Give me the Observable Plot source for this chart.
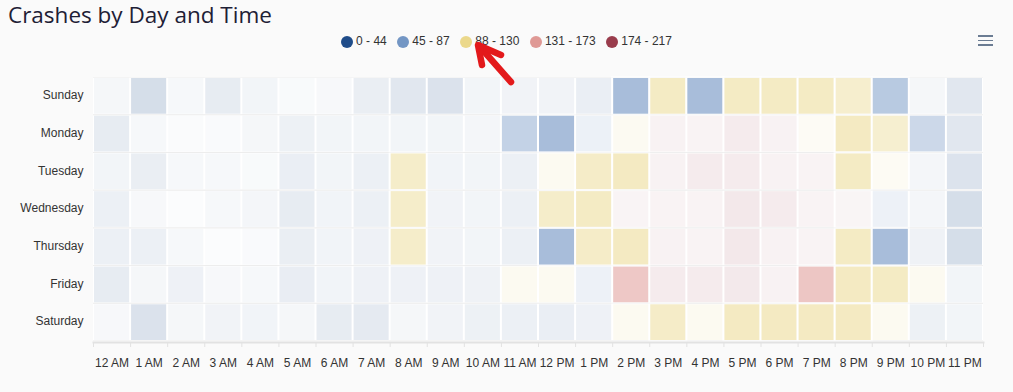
<!DOCTYPE html>
<html>
<head>
<meta charset="utf-8">
<script src="https://cdn.jsdelivr.net/npm/d3@7"></script>
<script src="https://cdn.jsdelivr.net/npm/@observablehq/plot@0.6"></script>
<style>
html,body{margin:0;padding:0;background:#fafafa;width:1013px;height:392px;overflow:hidden;}
#wrap{position:relative;width:1013px;height:392px;font-family:"Liberation Sans",Arial,sans-serif;}
#title{position:absolute;left:8px;top:4px;font-family:"Open Sans",sans-serif;font-size:22.5px;line-height:22px;color:#1e2035;white-space:nowrap;}
#legend{position:absolute;top:34px;left:0;width:1013px;display:flex;justify-content:center;font-size:12px;line-height:15px;color:#333;}
.item{display:flex;align-items:center;margin:0 5.3px;}
.dot{width:12px;height:12px;border-radius:50%;margin-right:3px;}
#menu{position:absolute;left:978px;top:35px;width:15px;}
#menu div{height:1.6px;background:#6b7c93;margin-bottom:3px;}
#chart{position:absolute;left:0;top:62px;}
#arrow{position:absolute;left:0;top:0;pointer-events:none;}
</style>
</head>
<body>
<div id="wrap">
  <div id="title">Crashes by Day and Time</div>
  <div id="legend"></div>
  <div id="menu"><div></div><div></div><div></div></div>
  <div id="chart"></div>
  <svg id="arrow" width="1013" height="392">
    <g fill="none" stroke="#e3191b" stroke-width="6.5" stroke-linecap="round" stroke-linejoin="round">
      <path d="M511,82 L481,48"/>
      <path d="M501,55 L478,45 L482,65"/>
    </g>
  </svg>
</div>
<script>
const days = ["Sunday", "Monday", "Tuesday", "Wednesday", "Thursday", "Friday", "Saturday"];
const hours = ["12 AM","1 AM","2 AM","3 AM","4 AM","5 AM","6 AM","7 AM","8 AM","9 AM","10 AM","11 AM",
               "12 PM","1 PM","2 PM","3 PM","4 PM","5 PM","6 PM","7 PM","8 PM","9 PM","10 PM","11 PM"];
const classLabels = ["0 - 44", "45 - 87", "88 - 130", "131 - 173", "174 - 217"];
const classBreaks = [45, 88, 131, 174];
const classColors = ["#1f4c89", "#7396c4", "#ebd88b", "#df9995", "#993c4c"];

// crash counts, one array per day, 12 AM .. 11 PM
const sunday    = [9,40,8,22,11,6,7,20,29,34,11,13,13,19,80,112,82,118,121,115,104,71,9,29];
const monday    = [22,8,3,4,9,17,11,11,11,11,10,62,81,48,92,181,178,196,182,90,120,101,56,29];
const tuesday   = [11,20,8,8,6,19,11,18,100,12,11,18,93,108,125,180,198,197,182,178,114,90,10,33];
const wednesday = [18,7,2,8,10,22,12,18,102,13,11,18,103,116,177,178,178,207,195,176,175,47,10,40];
const thursday  = [18,18,8,2,4,20,12,15,101,13,11,18,80,110,124,183,179,205,182,178,117,79,14,40];
const friday    = [22,9,15,7,8,21,12,15,15,15,14,94,95,47,165,198,196,217,182,168,126,113,91,11];
const saturday  = [7,34,9,13,12,9,22,24,9,13,17,18,19,15,91,108,93,122,126,124,123,92,17,11];

// highlight state of each cell in the picture (legend hover fade), one array per day
const sundayState    = [0.04,0.18,0.035,0.10,0.05,0.025,0.03,0.09,0.13,0.155,0.05,0.06,0.06,0.085,0.62,0.5,0.62,0.5,0.5,0.5,0.42,0.5,0.04,0.13];
const mondayState    = [0.10,0.035,0.015,0.02,0.04,0.075,0.05,0.05,0.05,0.05,0.045,0.42,0.62,0.13,0.1,0.064,0.053,0.093,0.06,0.08,0.52,0.4,0.36,0.13];
const tuesdayState   = [0.05,0.09,0.035,0.035,0.025,0.085,0.05,0.08,0.45,0.055,0.05,0.08,0.11,0.47,0.52,0.06,0.093,0.095,0.06,0.053,0.5,0.09,0.045,0.15];
const wednesdayState = [0.08,0.03,0.01,0.035,0.045,0.1,0.055,0.08,0.45,0.06,0.05,0.08,0.45,0.5,0.05,0.053,0.053,0.115,0.095,0.053,0.048,0.12,0.045,0.18];
const thursdayState  = [0.08,0.08,0.035,0.01,0.02,0.09,0.055,0.07,0.45,0.06,0.05,0.08,0.62,0.47,0.52,0.064,0.053,0.115,0.06,0.053,0.5,0.62,0.065,0.18];
const fridayState    = [0.1,0.04,0.07,0.03,0.035,0.095,0.055,0.07,0.07,0.07,0.065,0.11,0.11,0.12,0.53,0.093,0.095,0.105,0.06,0.55,0.52,0.5,0.11,0.05];
const saturdayState  = [0.03,0.155,0.04,0.06,0.055,0.04,0.1,0.11,0.04,0.06,0.075,0.08,0.085,0.07,0.11,0.47,0.11,0.52,0.52,0.52,0.52,0.11,0.075,0.05];

const counts = [sunday, monday, tuesday, wednesday, thursday, friday, saturday];
const states = [sundayState, mondayState, tuesdayState, wednesdayState, thursdayState, fridayState, saturdayState];
const rows = days.flatMap((day, i) => hours.map((hour, j) => ({day, hour, count: counts[i][j], state: states[i][j]})));

// legend
const legend = document.getElementById("legend");
classLabels.forEach((label, i) => {
  const item = document.createElement("div");
  item.className = "item";
  const dot = document.createElement("span");
  dot.className = "dot";
  dot.style.background = classColors[i];
  const txt = document.createElement("span");
  txt.textContent = label;
  item.appendChild(dot); item.appendChild(txt);
  legend.appendChild(item);
});

const W = 1013, H = 330;
const mL = 93, mR = 30, mT = 15, mB = 51;
const bw = (W - mL - mR) / hours.length;

const chart = Plot.plot({
  width: W, height: H,
  marginLeft: mL, marginRight: mR, marginTop: mT, marginBottom: mB,
  style: {background: "transparent", fontFamily: "'Liberation Sans', Arial, sans-serif", fontSize: "12px", color: "#333"},
  x: {domain: hours, padding: 0, round: false, label: null},
  y: {domain: days, padding: 0, round: false, label: null},
  color: {type: "threshold", domain: classBreaks, range: classColors},
  opacity: {type: "linear", domain: [0, 1], range: [0.028, 1]},
  marks: [
    Plot.cell(days, {y: d => d, fill: "#e8e8e8"}),
    Plot.cell(days, {y: d => d, fill: "white", insetTop: 0.5, insetBottom: 0.5}),
    Plot.cell(rows, {x: "hour", y: "day", fill: "count", stroke: "white", strokeWidth: 2, opacity: "state"}),
    Plot.frame({anchor: "bottom", stroke: "#e2e2e2", strokeWidth: 2, dy: 1}),
    Plot.axisY({tickSize: 0, tickPadding: 10, fontSize: 12, fill: "#333", label: null, dy: -1}),
    Plot.axisX({tickSize: 0, tickPadding: 17, fontSize: 12, fill: "#333", label: null}),
    Plot.axisX({tickSize: 5, tickFormat: () => "", dx: -bw / 2, dy: 1, stroke: "#e2e2e2", label: null}),
    Plot.axisX({ticks: [hours[hours.length - 1]], tickSize: 5, tickFormat: () => "", dx: bw / 2, dy: 1, stroke: "#e2e2e2", label: null})
  ]
});
document.getElementById("chart").appendChild(chart);
</script>
</body>
</html>
